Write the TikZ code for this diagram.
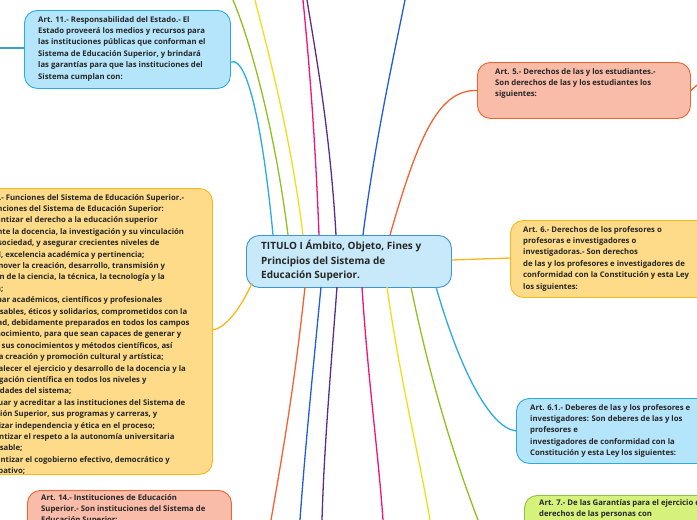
\documentclass[tikz,border=0pt]{standalone}
\usepackage{fontspec}
\setmainfont{Open Sans}
\usetikzlibrary{calc}
\definecolor{lbfill}{HTML}{B5E5FB}\definecolor{lbdraw}{HTML}{29ABE2}
\definecolor{cfill}{HTML}{C8E9F9}\definecolor{cdraw}{HTML}{3B95D6}
\definecolor{sfill}{HTML}{F9BCA9}\definecolor{sdraw}{HTML}{F2612E}
\definecolor{yfill}{HTML}{FDDB88}\definecolor{ydraw}{HTML}{FBB619}
\definecolor{gfill}{HTML}{D6F27D}\definecolor{gdraw}{HTML}{8CC43F}
\definecolor{cblue}{HTML}{1E5FD9}\definecolor{cpurple}{HTML}{5B2C8C}
\definecolor{cmag}{HTML}{F0147A}\definecolor{cyel}{HTML}{F2DD1A}
\definecolor{corange}{HTML}{F4622F}\definecolor{cgreen}{HTML}{8DC21F}
\tikzset{
 box/.style={rounded corners=13pt,line width=0.9pt,anchor=north west,inner sep=0pt},
 txt/.style={anchor=north west,align=left,inner sep=0pt,font=\fontsize{7.75}{11.4}\selectfont\bfseries,text=black!85},
 link/.style={line width=1.3pt}
}
\begin{document}
\begin{tikzpicture}[x=1pt,y=-1pt]
\useasboundingbox (0,0) rectangle (697,520);
\clip (0,0) rectangle (697,520);
% boxes
\node[box,fill=lbfill,draw=lbdraw,minimum width=206,minimum height=78] (b11) at (24,10) {};
\node[box,fill=sfill,draw=sdraw,minimum width=213,minimum height=56] (b5) at (477,62) {};
\node[box,fill=yfill,draw=ydraw,minimum width=200,minimum height=77] (b6) at (510,220) {};
\node[box,fill=yfill,draw=ydraw,minimum width=250,minimum height=286] (b13) at (-38,188) {};
\node[box,fill=lbfill,draw=lbdraw,minimum width=200,minimum height=65] (b61) at (516,398) {};
\node[box,fill=gfill,draw=gdraw,minimum width=200,minimum height=60] (b7) at (524,495) {};
\node[box,fill=sfill,draw=sdraw,minimum width=204,minimum height=60] (b14) at (27,490) {};
\node[box,fill=cfill,draw=cdraw,minimum width=205,minimum height=52] (c) at (246,235) {};
\coordinate (e5) at (697,85);
\coordinate (e11) at (0,48);
% connectors
\draw[link,lbdraw] (273,235) .. controls (265,150) and (250,55) .. (b11.east|-0,62);
\draw[link,cgreen] (288,235) .. controls (275,130) and (250,40) .. (233,0);
\draw[link,cyel] (303,235) .. controls (290,130) and (265,40) .. (255,0);
\draw[link,cmag] (319,235) .. controls (315,130) and (308,50) .. (303,0);
\draw[link,cpurple] (336,235) .. controls (330,130) and (315,50) .. (307,0);
\draw[link,cblue] (363,235) .. controls (375,140) and (395,50) .. (405,0);
\draw[link,corange] (390,235) .. controls (420,130) and (440,90) .. (b5.west);
\draw[link,sdraw] (b5.east) -- (e5);
\draw[link,lbdraw!80!gray] (e11) -- (b11.west|-0,48);
\draw[link,ydraw] (c.east|-0,260) -- (b6.west|-0,258);
\draw[link,ydraw] (252,283) .. controls (240,310) and (225,328) .. (b13.east|-0,330);
\draw[link,corange] (305,287) .. controls (295,380) and (285,440) .. (271,520);
\draw[link,cblue] (321,287) .. controls (312,380) and (305,450) .. (300,520);
\draw[link,cpurple] (337,287) .. controls (330,380) and (324,450) .. (322,520);
\draw[link,cmag] (362,287) .. controls (368,380) and (378,450) .. (383,520);
\draw[link,cyel] (387,287) .. controls (400,380) and (418,450) .. (430,520);
\draw[link,cgreen] (411,287) .. controls (430,380) and (455,460) .. (478,520);
\draw[link,lbdraw] (436,287) .. controls (460,370) and (490,428) .. (b61.west);
% texts
\node[txt] (t11) at (38,16) {Art. 11.- Responsabilidad del Estado.- El\\Estado proveerá los medios y recursos para\\las instituciones públicas que conforman el\\Sistema de Educación Superior, y brindará\\las garantías para que las instituciones del\\Sistema cumplan con:};
\node[txt] (t5) at (495,68) {Art. 5.- Derechos de las y los estudiantes.-\\Son derechos de las y los estudiantes los\\siguientes:};
\node[txt] (t6) at (523,226) {Art. 6.- Derechos de los profesores o\\profesoras e investigadores o\\investigadoras.- Son derechos\\de las y los profesores e investigadores de\\conformidad con la Constitución y esta Ley\\los siguientes:};
\node[txt] (t61) at (530,404) {Art. 6.1.- Deberes de las y los profesores e\\investigadores: Son deberes de las y los\\profesores e\\investigadores de conformidad con la\\Constitución y esta Ley los siguientes:};
\node[txt] (t7) at (539,499) {Art. 7.- De las Garantías para el ejercicio de\\derechos de las personas con\\discapacidad.- Son derechos de los estudiantes};
\node[txt] (t14) at (41,494) {Art. 14.- Instituciones de Educación\\Superior.- Son instituciones del Sistema de\\Educación Superior:};
\node[txt] (t13) at (-27,194) {Art. 13.- Funciones del Sistema de Educación Superior.-\\Son funciones del Sistema de Educación Superior:\\a) Garantizar el derecho a la educación superior\\mediante la docencia, la investigación y su vinculación\\con la sociedad, y asegurar crecientes niveles de\\calidad, excelencia académica y pertinencia;\\b) Promover la creación, desarrollo, transmisión y\\difusión de la ciencia, la técnica, la tecnología y la\\cultura;\\c) Formar académicos, científicos y profesionales\\responsables, éticos y solidarios, comprometidos con la\\sociedad, debidamente preparados en todos los campos\\del conocimiento, para que sean capaces de generar y\\aplicar sus conocimientos y métodos científicos, así\\como la creación y promoción cultural y artística;\\d) Fortalecer el ejercicio y desarrollo de la docencia y la\\investigación científica en todos los niveles y\\modalidades del sistema;\\e) Evaluar y acreditar a las instituciones del Sistema de\\Educación Superior, sus programas y carreras, y\\garantizar independencia y ética en el proceso;\\f) Garantizar el respeto a la autonomía universitaria\\responsable;\\g) Garantizar el cogobierno efectivo, democrático y\\participativo;};
\node[txt,font=\fontsize{10}{14.5}\selectfont\bfseries] (tc) at (261,240) {TITULO I Ámbito, Objeto, Fines y\\Principios del Sistema de\\Educación Superior.};
\end{tikzpicture}
\end{document}
